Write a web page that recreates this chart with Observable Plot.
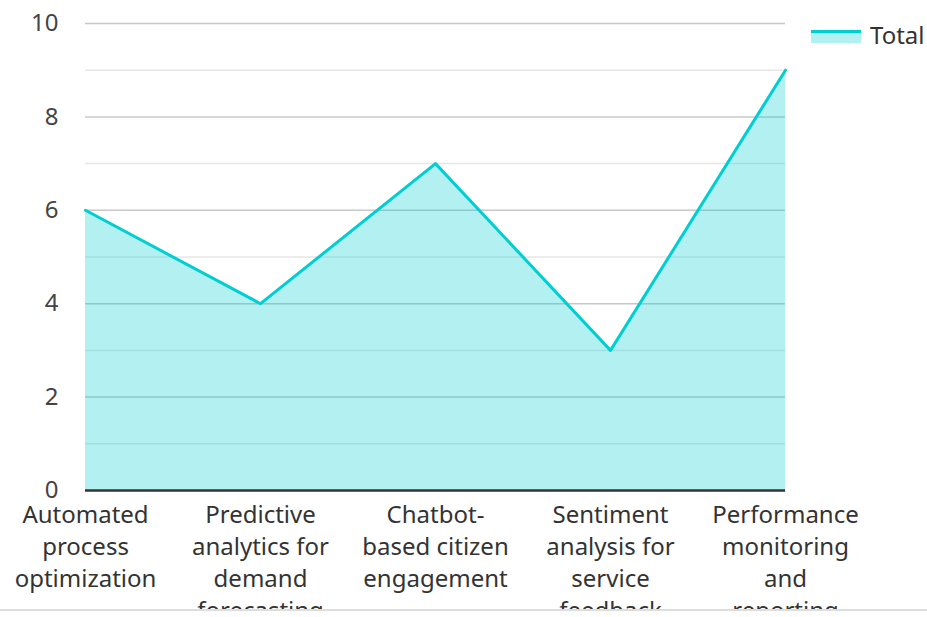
<!DOCTYPE html>
<html>
<head>
<meta charset="utf-8">
<script src="https://cdn.jsdelivr.net/npm/d3@7"></script>
<script src="https://cdn.jsdelivr.net/npm/@observablehq/plot@0.6"></script>
<style>
  body { margin: 0; background: #fff; font-family: "Noto Sans", sans-serif; }
  #wrap { position: relative; width: 927px; height: 609px; overflow: hidden; border-bottom: 2px solid #ddd; }
  #legend { position: absolute; left: 811px; top: 18px; display: flex; align-items: center; font-size: 24px; color: #333; }
  #legend .sw { width: 50px; height: 13px; border-top: 3px solid #00CED1; background: rgba(0,206,209,0.3); box-sizing: border-box; margin-right: 9px; margin-top: 4px; }
</style>
</head>
<body>
<div id="wrap"><div id="legend"><div class="sw"></div><span>Total</span></div></div>
<script>
const categories = [
  "Automated process optimization",
  "Predictive analytics for demand forecasting",
  "Chatbot-based citizen engagement",
  "Sentiment analysis for service feedback",
  "Performance monitoring and reporting"
];
const tickLabels = [
  "Automated\nprocess\noptimization",
  "Predictive\nanalytics for\ndemand\nforecasting",
  "Chatbot-\nbased citizen\nengagement",
  "Sentiment\nanalysis for\nservice\nfeedback",
  "Performance\nmonitoring\nand\nreporting"
];
const totals = [6, 4, 7, 3, 9];
const seriesName = "Total";

const data = categories.map((c, i) => ({category: c, value: totals[i]}));
const labelOf = new Map(categories.map((c, i) => [c, tickLabels[i]]));
const color = "#00CED1";

const chart = Plot.plot({
  width: 927,
  height: 609,
  marginLeft: 85,
  marginRight: 142,
  marginTop: 23,
  marginBottom: 119,
  style: { fontFamily: "Noto Sans, sans-serif", fontSize: "24px", color: "#444", background: "transparent" },
  x: { type: "point", domain: categories, padding: 0 },
  y: { domain: [0, 10] },
  marks: [
    Plot.ruleY([1, 3, 5, 7, 9], { stroke: "#e6e6e6", strokeWidth: 1.5 }),
    Plot.ruleY([2, 4, 6, 8, 10], { stroke: "#c8c8c8", strokeWidth: 1.5 }),
    Plot.areaY(data, { x: "category", y: "value", fill: color, fillOpacity: 0.3 }),
    Plot.lineY(data, { x: "category", y: "value", stroke: color, strokeWidth: 3 }),
    Plot.ruleY([0], { stroke: "#333", strokeWidth: 2.5 }),
    Plot.axisY({ ticks: [0, 2, 4, 6, 8, 10], tickSize: 0, tickPadding: 27, fontSize: 24, fill: "#444", label: null }),
    Plot.axisX({ tickSize: 0, tickPadding: 10, fontSize: 24, fill: "#333", lineHeight: 1.333, tickFormat: d => labelOf.get(d), label: null, textOverflow: null })
  ]
});
document.getElementById("wrap").prepend(chart);
</script>
</body>
</html>
